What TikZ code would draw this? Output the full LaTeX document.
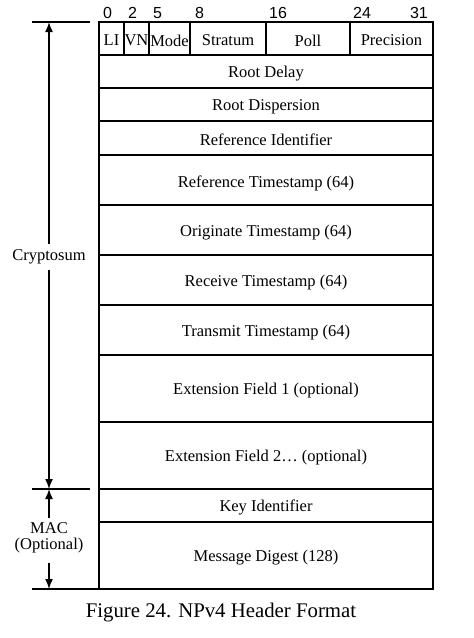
\documentclass[tikz,border=0pt]{standalone}
\usepackage{fontspec}
\setmainfont{Liberation Serif}
\newfontfamily\numfont{Liberation Sans}
\usetikzlibrary{arrows.meta}
\begin{document}
\begin{tikzpicture}[x=1pt,y=-1pt,
  boxline/.style={line width=1.8pt},
  field/.style={font=\fontsize{16.5}{19}\selectfont, inner sep=0pt, yshift=-2pt},
  bitnum/.style={font=\numfont\fontsize{16}{18}\selectfont, inner sep=0pt},
  sidelabel/.style={font=\fontsize{16.5}{19}\selectfont, align=center, inner sep=3pt},
  arr/.style={line width=1.5pt, -{Latex[length=10pt,width=8pt]}},
  tick/.style={line width=1.5pt}]
\useasboundingbox (0,0) rectangle (474,638);
\fill[white] (0,0) rectangle (474,638);

% header row
\draw[boxline] (99,22) rectangle (433,55);
\foreach \xx in {124,149,190,266,350} \draw[boxline] (\xx,22) -- (\xx,55);
\node[field] (li) at (111.5,38.5) {LI};
\node[field] (vn) at (136.5,38.5) {VN};
\node[field] (mode) at (169.5,38.5) {Mode};
\node[field] (stratum) at (228,38.5) {Stratum};
\node[field] (poll) at (308,38.5) {Poll};
\node[field] (prec) at (391.5,38.5) {Precision};

% bit numbers
\node[bitnum, anchor=base west] (b0) at (103,18) {0};
\node[bitnum, anchor=base west] (b2) at (128,18) {2};
\node[bitnum, anchor=base west] (b5) at (153,18) {5};
\node[bitnum, anchor=base west] (b8) at (195,18) {8};
\node[bitnum, anchor=base west] (b16) at (269,18) {16};
\node[bitnum, anchor=base west] (b24) at (353,18) {24};
\node[bitnum, anchor=base east] (b31) at (428,18) {31};

% rows
\draw[boxline] (99,55) rectangle (433,88);
\node[field] (rdelay) at (266,71.5) {Root Delay};
\draw[boxline] (99,88) rectangle (433,121);
\node[field] (rdisp) at (266,104.5) {Root Dispersion};
\draw[boxline] (99,121) rectangle (433,155);
\node[field] (refid) at (266,138) {Reference Identifier};
\draw[boxline] (99,155) rectangle (433,205);
\node[field] (refts) at (266,181) {Reference Timestamp (64)};
\draw[boxline] (99,205) rectangle (433,255);
\node[field] (orgts) at (266,231) {Originate Timestamp (64)};
\draw[boxline] (99,255) rectangle (433,305);
\node[field] (rcvts) at (266,281) {Receive Timestamp (64)};
\draw[boxline] (99,305) rectangle (433,355);
\node[field] (xmtts) at (266,331) {Transmit Timestamp (64)};
\draw[boxline] (99,355) rectangle (433,422);
\node[field] (ext1) at (266,388.5) {Extension Field 1 (optional)};
\draw[boxline] (99,422) rectangle (433,489);
\node[field] (ext2) at (266,455.5) {Extension Field 2\ldots\ (optional)};
\draw[boxline] (99,489) rectangle (433,522);
\node[field] (keyid) at (266,505.5) {Key Identifier};
\draw[boxline] (99,522) rectangle (433,589);
\node[field] (digest) at (266,555.5) {Message Digest (128)};

% left side ticks
\coordinate (t1a) at (32,22);  \coordinate (t1b) at (90,22);
\coordinate (t2a) at (32,489); \coordinate (t2b) at (90,489);
\coordinate (t3a) at (32,589); \coordinate (t3b) at (99,589);
\draw[tick] (t1a) -- (t1b);
\draw[tick] (t2a) -- (t2b);
\draw[boxline] (t3a) -- (t3b);

% side labels and arrows
\node[sidelabel, inner sep=6pt] (crypto) at (49,257) {Cryptosum};
\coordinate (ctop) at (49,22);
\coordinate (cbot) at (49,489);
\draw[arr] (crypto.north) -- (ctop);
\draw[arr] (crypto.south) -- (cbot);

\node[sidelabel, inner sep=4pt] (mac) at (49,538) {MAC\\[-3pt](Optional)};
\coordinate (mtop) at (49,489);
\coordinate (mbot) at (49,589);
\draw[arr] ([yshift=1pt]mac.north) -- (mtop);
\draw[arr] ([yshift=-6pt]mac.south) -- (mbot);

% caption
\node[font=\fontsize{20.8}{24}\selectfont, inner sep=0pt] (caption) at (221,613) {Figure 24. NPv4 Header Format};
\end{tikzpicture}
\end{document}
